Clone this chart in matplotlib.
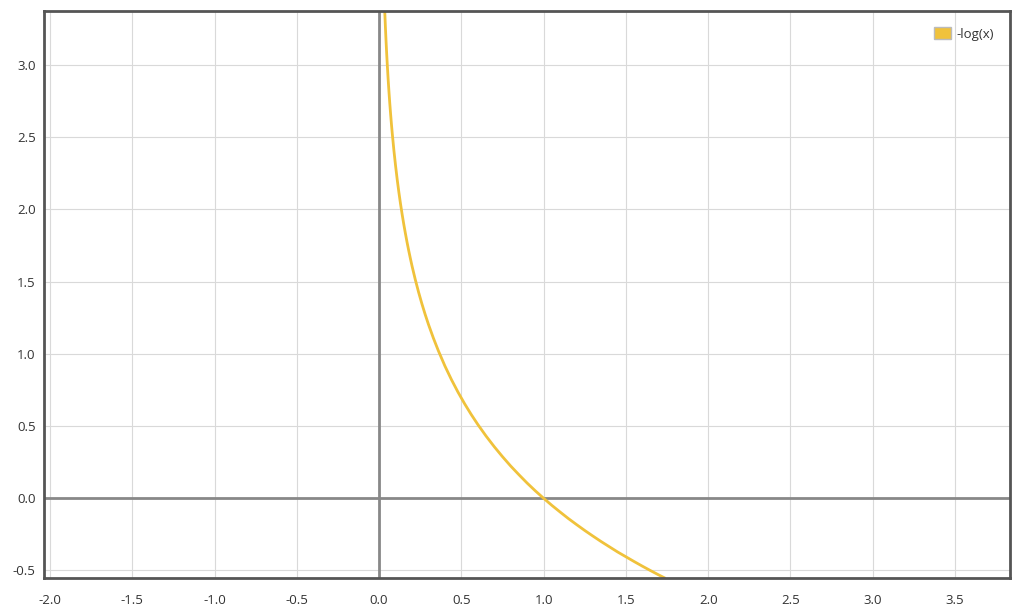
import matplotlib
matplotlib.use("Agg")
import matplotlib.pyplot as plt
from matplotlib.patches import Patch

plt.rcParams['font.family'] = ['Open Sans', 'DejaVu Sans']

x_vals = [0.034, 0.038, 0.042, 0.046, 0.05, 0.055, 0.06, 0.065, 0.07, 0.075, 0.08, 0.09, 0.1,
          0.11, 0.12, 0.13, 0.14, 0.15, 0.16, 0.17, 0.18, 0.19, 0.2, 0.22, 0.24, 0.26, 0.28,
          0.3, 0.33, 0.36, 0.4, 0.44, 0.48, 0.52, 0.56, 0.6, 0.65, 0.7, 0.75, 0.8, 0.85,
          0.9, 0.95, 1.0, 1.05, 1.1, 1.15, 1.2, 1.25, 1.3, 1.35, 1.4, 1.45, 1.5, 1.55,
          1.6, 1.65, 1.7, 1.733]
y_vals = [3.381, 3.270, 3.170, 3.079, 2.996, 2.900, 2.813, 2.733, 2.659, 2.590, 2.526, 2.408,
          2.303, 2.207, 2.120, 2.040, 1.966, 1.897, 1.833, 1.772, 1.715, 1.661, 1.609, 1.514,
          1.427, 1.347, 1.273, 1.204, 1.109, 1.022, 0.916, 0.821, 0.734, 0.654, 0.580, 0.511,
          0.431, 0.357, 0.288, 0.223, 0.163, 0.105, 0.051, 0.000, -0.049, -0.095, -0.140,
          -0.182, -0.223, -0.262, -0.300, -0.336, -0.372, -0.405, -0.438, -0.470, -0.501,
          -0.531, -0.550]
series_label = "-log(x)"
x_ticks = [-2.0, -1.5, -1.0, -0.5, 0.0, 0.5, 1.0, 1.5, 2.0, 2.5, 3.0, 3.5]
y_ticks = [-0.5, 0.0, 0.5, 1.0, 1.5, 2.0, 2.5, 3.0]

line_color = "#f0c23b"

fig = plt.figure(figsize=(10.3, 6.1), dpi=100)
ax = fig.add_axes([44/1030, 1 - 577.7/610, (1010 - 44)/1030, (577.7 - 11)/610])

ax.set_xlim(-2.037, 3.835)
ax.set_ylim(-0.55, 3.374)
ax.set_xticks(x_ticks)
ax.set_yticks(y_ticks)
ax.set_xticklabels([f"{t:.1f}" for t in x_ticks])
ax.set_yticklabels([f"{t:.1f}" for t in y_ticks])
ax.set_axisbelow(True)
ax.grid(True, color="#d9d9d9", linewidth=0.8)
ax.tick_params(length=0, labelsize=9.5, colors="#333333", pad=12)
ax.tick_params(axis='y', pad=6)

ax.axhline(0, color="#888888", linewidth=2, zorder=2)
ax.axvline(0, color="#888888", linewidth=2, zorder=2)

ax.plot(x_vals, y_vals, color=line_color, linewidth=2, zorder=3)

for s in ax.spines.values():
    s.set_color("#555555")
    s.set_linewidth(2)
    s.set_zorder(5)

handle = Patch(facecolor=line_color, edgecolor="#bbbbbb", linewidth=1)
leg = ax.legend([handle], [series_label], loc="upper right", frameon=False, fontsize=9.5,
                handlelength=1.3, handleheight=1.0, handletextpad=0.4,
                borderaxespad=0.85, labelcolor="#333333")

fig.savefig("out.png", dpi=100)
